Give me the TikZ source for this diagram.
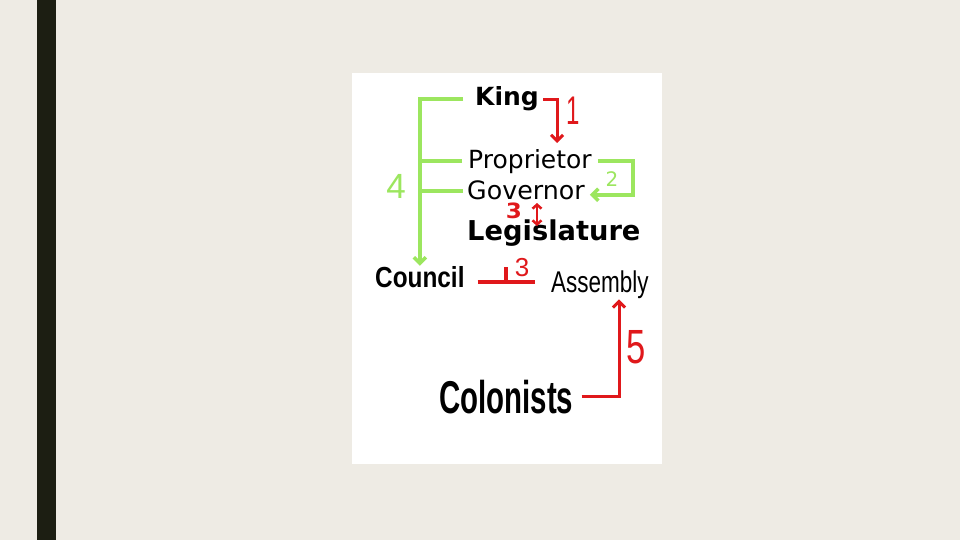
\documentclass[tikz,border=0pt]{standalone}
\usepackage{fontspec}
\usepackage{graphicx}
\usetikzlibrary{arrows.meta}
\newfontfamily\vfont{DejaVu Sans}
\newfontfamily\nfont{Liberation Sans}
\definecolor{bgbeige}{HTML}{EEEBE4}
\definecolor{barblack}{HTML}{1C1E12}
\definecolor{lgreen}{HTML}{9CE65F}
\definecolor{lred}{HTML}{E0181B}
\newcommand{\fs}[1]{\fontsize{#1}{#1}\selectfont}
\begin{document}
\begin{tikzpicture}[x=1pt,y=-1pt,>={Straight Barb[length=6pt,width=12pt]},
		word/.style={inner sep=0pt,anchor=base west},
		num/.style={inner sep=0pt,text=lred},
		grn/.style={draw=lgreen,line width=3.5pt},
		rd/.style={draw=lred,line width=3pt}]
	\useasboundingbox (0,0) rectangle (960,540);
	\fill[bgbeige] (0,0) rectangle (960,540);
	\fill[barblack] (37,0) rectangle (56,540);
	\fill[white] (352,73) rectangle (662,464);
	% offices
	\node[word] (king) at (475,106) {\vfont\bfseries\fs{25}King};
	\node[word] (prop) at (468,168) {\vfont\fs{25}Proprietor};
	\node[word] (gov) at (467,200) {\vfont\fs{25.3}Governor};
	\node[word] (legis) at (467,240) {\vfont\bfseries\fs{27.3}Legislature};
	\node[word] (council) at (375,287) {\nfont\bfseries\fs{29}\scalebox{0.84}[1]{Council}};
	\node[word] (assembly) at (551,292) {\nfont\fs{30}\scalebox{0.75}[1]{Assembly}};
	\node[word] (colonists) at (439,413) {\nfont\bfseries\fs{46}\scalebox{0.64}[1]{Colonists}};
	% numbers
	\node[num,text=lgreen] (n4) at (396,186) {\nfont\fs{35}4};
	\node[num] (n1) at (573,111) {\nfont\fs{40}\scalebox{0.6}[1]{1}};
	\node[num,text=lgreen] (n2) at (612,179) {\vfont\fs{20}2};
	\node[num] (n3a) at (514,211) {\vfont\bfseries\fs{21}\scalebox{1.1}[1]{3}};
	\node[num] (n3b) at (522,268) {\nfont\fs{26}3};
	\node[num] (n5) at (636,347) {\nfont\fs{48}\scalebox{0.72}[1]{5}};
	\coordinate (a1) at (557,143);
	\coordinate (d3t) at (537,203);
	\coordinate (d3b) at (537,226);
	\coordinate (b3) at (506,282);
	\coordinate (a5) at (619,0);
	% green links
	\draw[grn,->] ([xshift=-12pt]king.west) -| (council.north);
	\draw[grn] ([xshift=-6pt]prop.west) -- (prop.west -| council.north);
	\draw[grn] ([xshift=-4pt]gov.west) -- (gov.west -| council.north);
	\draw[grn,->] ([xshift=6pt]prop.east) -- ++(35,0) |- ([shift={(5pt,-4pt)}]gov.east);
	% red links
	\draw[rd,->] ([xshift=4pt]king.east) -| (a1);
	\draw[rd,<->,>={Straight Barb[length=4pt,width=9pt]},line width=2.5pt] (d3t) -- (d3b);
	\draw[rd,line width=3.5pt] ([xshift=13pt]council.east |- b3) -- ([xshift=-16pt]assembly.west |- b3);
	\draw[rd,line width=3.5pt] (b3) -- ++(0,-15);
	\draw[rd,->] ([xshift=8pt]colonists.east) -| ([yshift=-1pt]assembly.south -| a5);
\end{tikzpicture}
\end{document}
